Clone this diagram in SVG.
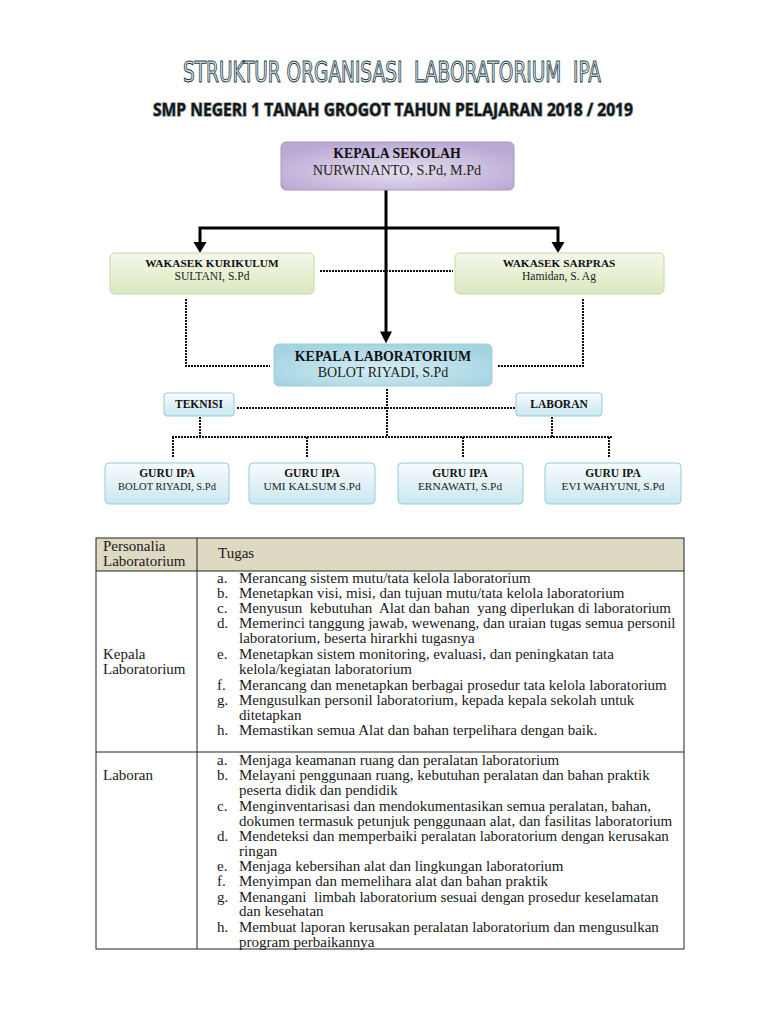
<svg xmlns="http://www.w3.org/2000/svg" width="768" height="1024" viewBox="0 0 768 1024">
<defs>
<radialGradient id="gPurple" cx="50%" cy="60%" r="60%">
<stop offset="0" stop-color="#e6e0ef"/><stop offset="1" stop-color="#bba9d4"/>
</radialGradient>
<linearGradient id="gGreen" x1="0" y1="0" x2="0" y2="1">
<stop offset="0" stop-color="#f4f8ea"/><stop offset="1" stop-color="#dce8bf"/>
</linearGradient>
<radialGradient id="gBlue" cx="50%" cy="60%" r="60%">
<stop offset="0" stop-color="#d6edf3"/><stop offset="1" stop-color="#a4d3e1"/>
</radialGradient>
<linearGradient id="gLight" x1="0" y1="0" x2="0" y2="1">
<stop offset="0" stop-color="#f7fcfd"/><stop offset="1" stop-color="#cbe7f0"/>
</linearGradient>
<marker id="arr" markerWidth="4" markerHeight="4" refX="2.2" refY="2" orient="auto" markerUnits="strokeWidth">
<path d="M0,0 L4,2 L0,4 z" fill="#000"/>
</marker>
</defs>
<style>
.title{font-family:"DejaVu Sans Condensed","Liberation Sans",sans-serif;font-size:28px;fill:#e4f1f4;stroke:#1d3a44;stroke-width:1}
.sub{font-family:"Open Sans","Liberation Sans",sans-serif;font-size:17px;font-weight:bold;fill:#151515}
.subsh{font-family:"Open Sans","Liberation Sans",sans-serif;font-size:17px;font-weight:bold;fill:none;stroke:#9aa;stroke-width:1.6}
.nb{font-family:"Liberation Serif","DejaVu Serif",serif;font-weight:bold;fill:#111;text-anchor:middle}
.nr{font-family:"Liberation Serif","DejaVu Serif",serif;fill:#222;text-anchor:middle}
.solid{stroke:#000;stroke-width:3;fill:none}
.dot{stroke:#111;stroke-width:2;stroke-dasharray:2 1;fill:none}
.t{font-family:"Liberation Serif","Times New Roman",serif;font-size:15px;fill:#1a1a1a}
.cell{stroke:#222;stroke-width:1;fill:none}
</style>
<rect width="768" height="1024" fill="#fff"/>

<g id="title">
<text class="title" x="183" y="82" textLength="418" lengthAdjust="spacingAndGlyphs" xml:space="preserve">STRUKTUR ORGANISASI  LABORATORIUM  IPA</text>
<text class="subsh" x="153" y="116" textLength="480" lengthAdjust="spacingAndGlyphs">SMP NEGERI 1 TANAH GROGOT TAHUN PELAJARAN 2018 / 2019</text>
<text class="sub" x="153" y="116" textLength="480" lengthAdjust="spacingAndGlyphs">SMP NEGERI 1 TANAH GROGOT TAHUN PELAJARAN 2018 / 2019</text>
</g>

<g id="connectors">
<line class="solid" x1="386" y1="190" x2="386" y2="338" marker-end="url(#arr)"/>
<polyline class="solid" points="200,246 200,228 558,228 558,246" fill="none"/>
<path d="M193.5,242 L206.5,242 L200,253 z" fill="#000"/>
<path d="M551.5,242 L564.5,242 L558,253 z" fill="#000"/>
<line class="dot" x1="320" y1="271" x2="453" y2="271"/>
<polyline class="dot" points="186,299 186,366 270,366"/>
<polyline class="dot" points="583,299 583,366 497,366"/>
<line class="dot" x1="387" y1="389" x2="387" y2="437"/>
<line class="dot" x1="237" y1="408" x2="515" y2="408"/>
<line class="dot" x1="200" y1="417" x2="200" y2="437"/>
<line class="dot" x1="552" y1="417" x2="552" y2="437"/>
<line class="dot" x1="172" y1="437" x2="613" y2="437"/>
<line class="dot" x1="173" y1="437" x2="173" y2="457"/>
<line class="dot" x1="307" y1="437" x2="307" y2="457"/>
<line class="dot" x1="463" y1="437" x2="463" y2="457"/>
<line class="dot" x1="609" y1="437" x2="609" y2="457"/>
</g>

<g id="kepala-sekolah">
<rect x="281" y="142" width="233" height="48" rx="5" fill="url(#gPurple)" stroke="#a898c6"/>
<text class="nb" x="397" y="158" font-size="13.8">KEPALA SEKOLAH</text>
<text class="nr" x="397" y="175" font-size="14.2">NURWINANTO, S.Pd, M.Pd</text>
</g>

<g id="wakasek-kurikulum">
<rect x="110" y="253" width="204" height="41" rx="5" fill="url(#gGreen)" stroke="#c6d9a2"/>
<text class="nb" x="212" y="267" font-size="11.3">WAKASEK KURIKULUM</text>
<text class="nr" x="212" y="280" font-size="11.6">SULTANI, S.Pd</text>
</g>

<g id="wakasek-sarpras">
<rect x="455" y="253" width="209" height="41" rx="5" fill="url(#gGreen)" stroke="#c6d9a2"/>
<text class="nb" x="559" y="267" font-size="11.3">WAKASEK SARPRAS</text>
<text class="nr" x="559" y="280" font-size="11.6">Hamidan, S. Ag</text>
</g>

<g id="kepala-lab">
<rect x="274" y="344" width="218" height="42" rx="5" fill="url(#gBlue)" stroke="#9fd0df"/>
<text class="nb" x="383" y="361" font-size="13.9">KEPALA LABORATORIUM</text>
<text class="nr" x="383" y="377" font-size="14">BOLOT RIYADI, S.Pd</text>
</g>

<g id="teknisi">
<rect x="164" y="393" width="70" height="23" rx="3" fill="url(#gLight)" stroke="#93cddd"/>
<text class="nb" x="199" y="408" font-size="11.5">TEKNISI</text>
</g>

<g id="laboran">
<rect x="516" y="393" width="86" height="23" rx="3" fill="url(#gLight)" stroke="#93cddd"/>
<text class="nb" x="559" y="408" font-size="11.5">LABORAN</text>
</g>

<g id="guru-1">
<rect x="105" y="463" width="124" height="41" rx="4" fill="url(#gLight)" stroke="#93cddd"/>
<text class="nb" x="167" y="477" font-size="11.5">GURU IPA</text>
<text class="nr" x="167" y="490" font-size="10.5">BOLOT RIYADI, S.Pd</text>
</g>
<g id="guru-2">
<rect x="249" y="463" width="126" height="41" rx="4" fill="url(#gLight)" stroke="#93cddd"/>
<text class="nb" x="312" y="477" font-size="11.5">GURU IPA</text>
<text class="nr" x="312" y="490" font-size="11.4">UMI KALSUM S.Pd</text>
</g>
<g id="guru-3">
<rect x="398" y="463" width="125" height="41" rx="4" fill="url(#gLight)" stroke="#93cddd"/>
<text class="nb" x="460" y="477" font-size="11.5">GURU IPA</text>
<text class="nr" x="460" y="490" font-size="11.4">ERNAWATI, S.Pd</text>
</g>
<g id="guru-4">
<rect x="545" y="463" width="136" height="41" rx="4" fill="url(#gLight)" stroke="#93cddd"/>
<text class="nb" x="613" y="477" font-size="11.5">GURU IPA</text>
<text class="nr" x="613" y="490" font-size="11.4">EVI WAHYUNI, S.Pd</text>
</g>

<g id="table">
<rect x="96" y="538" width="588" height="33" fill="#ddd9c3"/>
<rect class="cell" x="96" y="538" width="588" height="411"/>
<line class="cell" x1="96" y1="571" x2="684" y2="571"/>
<line class="cell" x1="96" y1="752" x2="684" y2="752"/>
<line class="cell" x1="197" y1="538" x2="197" y2="949"/>
<text class="t" x="103" y="551">Personalia</text>
<text class="t" x="103" y="566">Laboratorium</text>
<text class="t" x="218" y="558">Tugas</text>
<text class="t" x="103" y="659">Kepala</text>
<text class="t" x="103" y="674">Laboratorium</text>
<text class="t" x="103" y="780">Laboran</text>

<g class="t">
<text x="217" y="583">a.</text><text x="239" y="583">Merancang sistem mutu/tata kelola laboratorium</text>
<text x="217" y="598">b.</text><text x="239" y="598">Menetapkan visi, misi, dan tujuan mutu/tata kelola laboratorium</text>
<text x="217" y="613">c.</text><text x="239" y="613" xml:space="preserve">Menyusun  kebutuhan  Alat dan bahan  yang diperlukan di laboratorium</text>
<text x="217" y="628">d.</text><text x="239" y="628">Memerinci tanggung jawab, wewenang, dan uraian tugas semua personil</text>
<text x="239" y="643">laboratorium, beserta hirarkhi tugasnya</text>
<text x="217" y="659">e.</text><text x="239" y="659">Menetapkan sistem monitoring, evaluasi, dan peningkatan tata</text>
<text x="239" y="674">kelola/kegiatan laboratorium</text>
<text x="217" y="690">f.</text><text x="239" y="690">Merancang dan menetapkan berbagai prosedur tata kelola laboratorium</text>
<text x="217" y="705">g.</text><text x="239" y="705">Mengusulkan personil laboratorium, kepada kepala sekolah untuk</text>
<text x="239" y="720">ditetapkan</text>
<text x="217" y="735">h.</text><text x="239" y="735">Memastikan semua Alat dan bahan terpelihara dengan baik.</text>

<text x="217" y="765">a.</text><text x="239" y="765">Menjaga keamanan ruang dan peralatan laboratorium</text>
<text x="217" y="780">b.</text><text x="239" y="780">Melayani penggunaan ruang, kebutuhan peralatan dan bahan praktik</text>
<text x="239" y="795">peserta didik dan pendidik</text>
<text x="217" y="811">c.</text><text x="239" y="811">Menginventarisasi dan mendokumentasikan semua peralatan, bahan,</text>
<text x="239" y="826">dokumen termasuk petunjuk penggunaan alat, dan fasilitas laboratorium</text>
<text x="217" y="841">d.</text><text x="239" y="841">Mendeteksi dan memperbaiki peralatan laboratorium dengan kerusakan</text>
<text x="239" y="856">ringan</text>
<text x="217" y="871">e.</text><text x="239" y="871">Menjaga kebersihan alat dan lingkungan laboratorium</text>
<text x="217" y="886">f.</text><text x="239" y="886">Menyimpan dan memelihara alat dan bahan praktik</text>
<text x="217" y="902">g.</text><text x="239" y="902" xml:space="preserve">Menangani  limbah laboratorium sesuai dengan prosedur keselamatan</text>
<text x="239" y="916">dan kesehatan</text>
<text x="217" y="932">h.</text><text x="239" y="932">Membuat laporan kerusakan peralatan laboratorium dan mengusulkan</text>
<text x="239" y="947">program perbaikannya</text>
</g>
</g>
</svg>
